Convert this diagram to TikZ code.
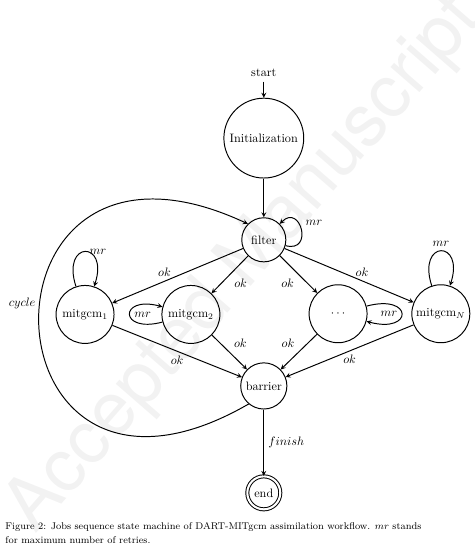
\documentclass[tikz,border=0pt]{standalone}
\usepackage{fontspec}
\newfontfamily\wmfont{TeX Gyre Heros}
\usetikzlibrary{arrows}

\begin{document}
\begin{tikzpicture}[>=stealth, thick,
  state/.style={circle, draw, minimum size=1.67cm, inner sep=1pt},
  caption/.style={anchor=base west, inner sep=0pt, font=\fontsize{8}{10}\selectfont}]
\useasboundingbox (0,0) rectangle (13.656,15.759);

% watermark
\node[rotate=49, text=gray!10, font=\wmfont\fontsize{60}{60}\selectfont] (wm) at (7.06,8.12) {Accepted Manuscript};

% states
\node (start) at (7.6,13.65) {start};
\node[state, minimum size=2.3cm] (init) at (7.6,11.78) {Initialization};
\node[state, minimum size=1.27cm] (filter) at (7.6,8.85) {filter};
\node[state] (m1) at (2.45,6.7) {mitgcm$_1$};
\node[state] (m2) at (5.5,6.7) {mitgcm$_2$};
\node[state] (dots) at (9.74,6.72) {$\cdots$};
\node[state] (mN) at (12.7,6.72) {mitgcm$_N$};
\node[state, minimum size=1.33cm] (barrier) at (7.6,4.64) {barrier};
\node[state, double, double distance=1.7pt, minimum size=0.95cm] (end) at (7.6,1.56) {end};

\draw[->] (start) -- (init);
\draw[->] (init) -- (filter);

% retries
\draw[->] (filter) to[out=-15, in=45, min distance=8.5mm] node[above right] {$mr$} (filter);
\draw[->] (m1) to[out=108, in=72, min distance=1.4cm] node[right] {$mr$} (m1);
\draw[->] (m2) to[out=195, in=165, min distance=1.3cm] node[right] {$mr$} (m2);
\draw[->] (dots) to[out=15, in=-15, min distance=1.4cm] node[left] {$mr$} (dots);
\draw[->] (mN) to[out=108, in=72, min distance=1.4cm] node[above] {$mr$} (mN);

\draw[->] (filter) -- node[pos=0.6, above] {$ok$} (m1);
\draw[->] (filter) -- node[below right] {$ok$} (m2);
\draw[->] (filter) -- node[below left] {$ok$} (dots);
\draw[->] (filter) -- node[pos=0.6, above] {$ok$} (mN);

\draw[->] (m1) -- node[below] {$ok$} (barrier);
\draw[->] (m2) -- node[above right] {$ok$} (barrier);
\draw[->] (dots) -- node[above left] {$ok$} (barrier);
\draw[->] (mN) -- node[below] {$ok$} (barrier);

\draw[->] (barrier.230) .. controls +(210:9.07cm) and +(155:9.07cm) .. (filter.135) node[pos=0.54, left] {$cycle$};
\draw[->] (barrier) -- node[right] {$finish$} (end);

% caption
\node[caption] (cap1) at (0.144,0.49) {Figure 2: Jobs sequence state machine of DART-MITgcm assimilation workflow. $mr$ stands};
\node[caption] (cap2) at (0.144,0.115) {for maximum number of retries.};
\end{tikzpicture}
\end{document}
